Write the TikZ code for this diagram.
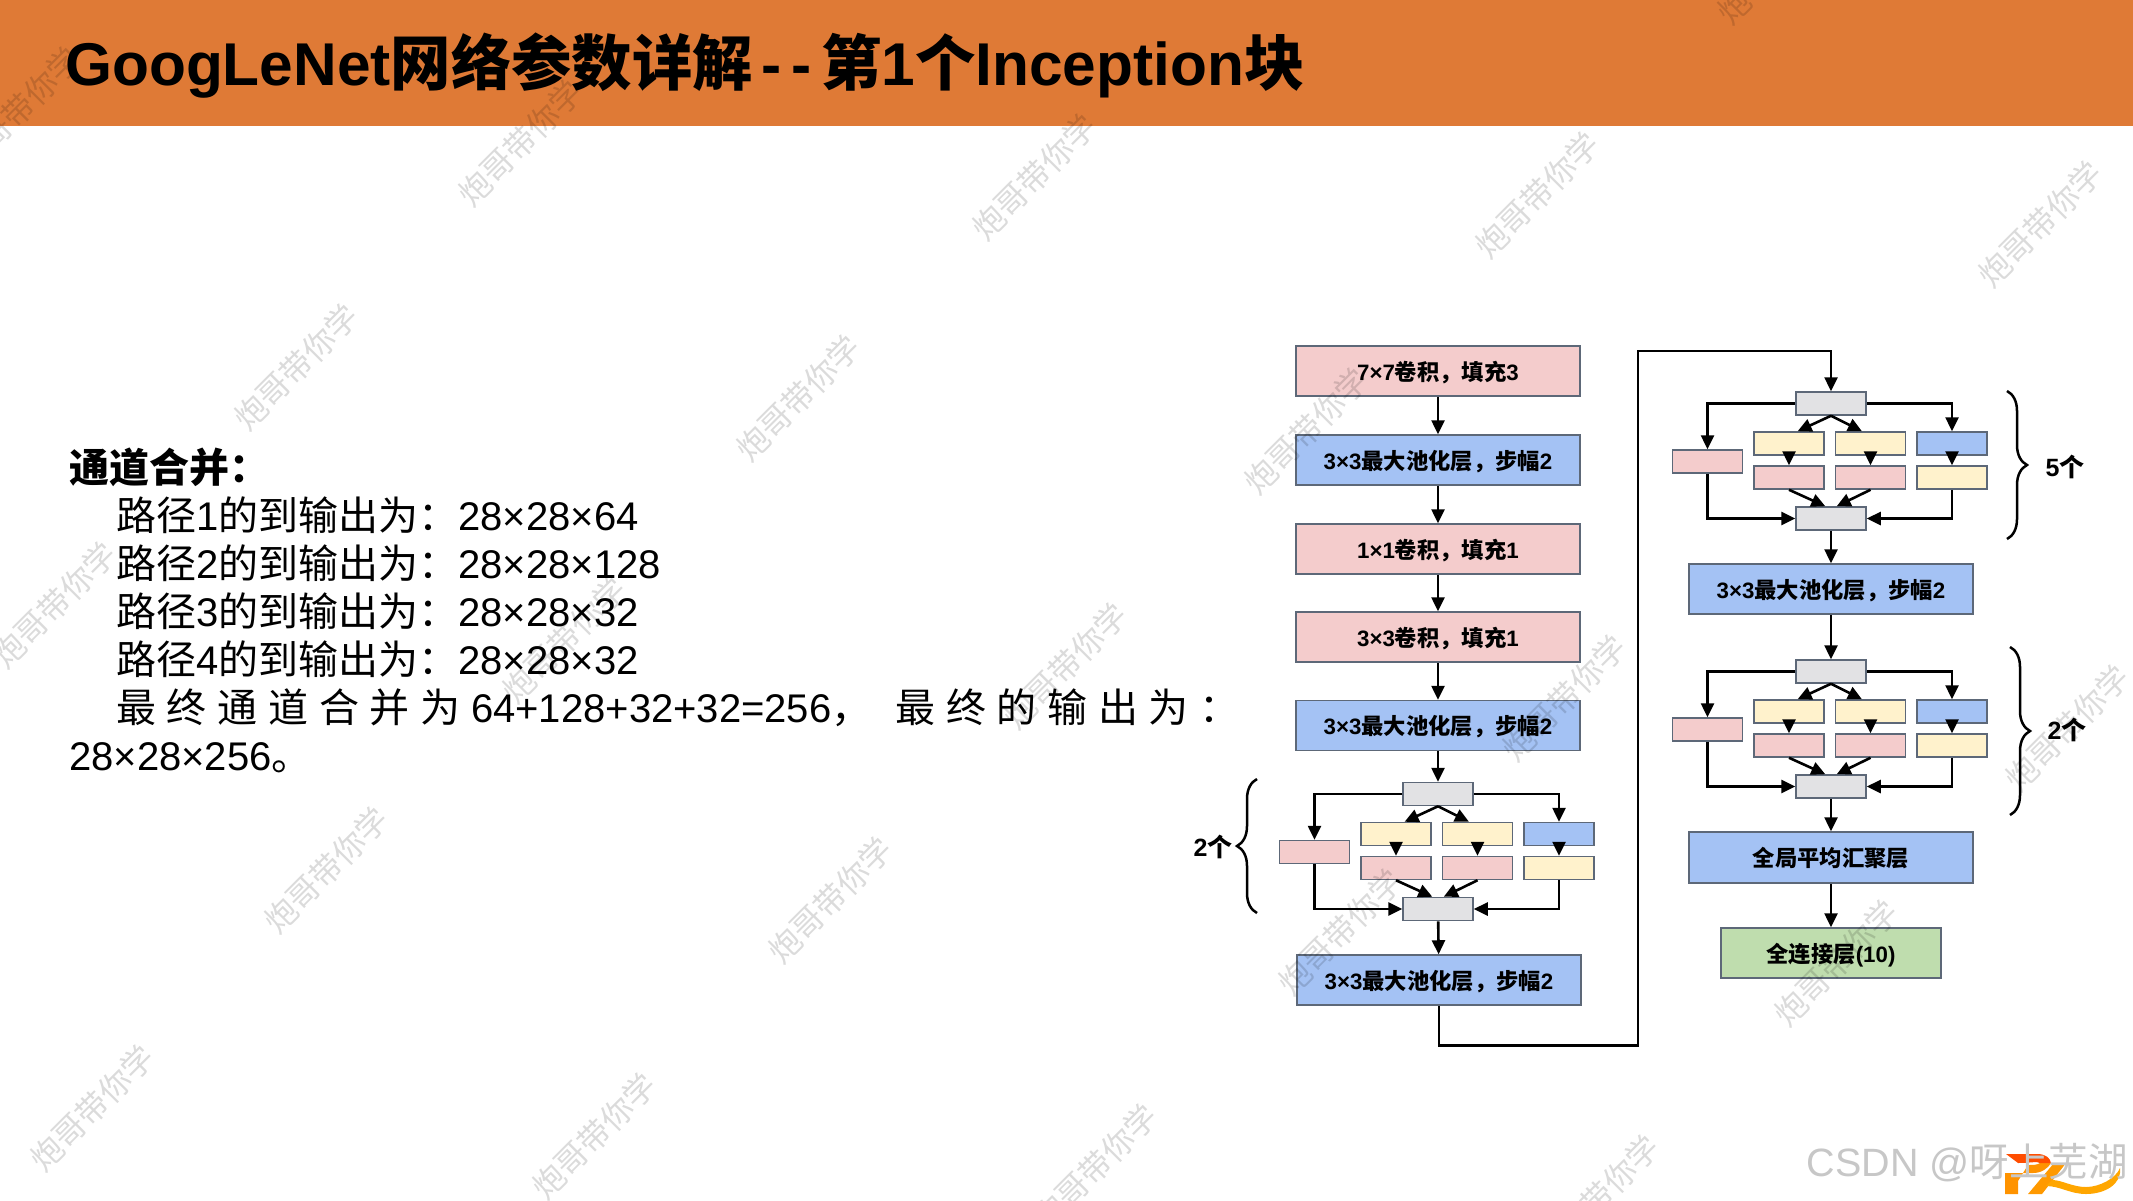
\documentclass[tikz,border=0pt]{standalone}
\usepackage{fontspec}
\setmainfont{Liberation Sans}
\newfontfamily\cjk{Noto Sans CJK SC}
\usepackage{tikz}
\usetikzlibrary{arrows.meta,decorations.pathreplacing}
\definecolor{bannerorange}{HTML}{DF7A36}
\definecolor{boxpink}{HTML}{F4CCCC}
\definecolor{boxblue}{HTML}{A4C2F4}
\definecolor{boxyellow}{HTML}{FFF2CC}
\definecolor{boxgray}{HTML}{E2E2E4}
\definecolor{boxgreen}{HTML}{BFDDAE}
\definecolor{boxedge}{HTML}{5D6878}
\tikzset{
  >={Triangle[length=14pt,width=13pt]},
  flow/.style={black,line width=2.6pt,->},
  plain/.style={draw=boxedge,line width=1.5pt,inner sep=0pt},
  wide/.style={plain,minimum width=284pt,minimum height=50pt,text height=21pt,text depth=3pt,font=\bfseries\fontsize{22.3}{26}\selectfont},
  small/.style={plain,minimum width=70pt,minimum height=23pt},
  curly/.style={black,line width=2.5pt,decorate,decoration={brace,amplitude=20pt}},
  mark text/.style={font=\bfseries\fontsize{25}{30}\selectfont},
  shadow text/.style={black,text opacity=.14,rotate=45,font=\cjk\fontsize{32}{36}\selectfont}
}
% one inception block: name, x and y of its top gate
\newcommand{\inceptionblock}[3]{
  \node[small,fill=boxgray](#1top) at (#2, #3) {};
  \node[small,fill=boxpink](#1left) at (#2-123.5, #3+58) {};
  \node[small,fill=boxyellow](#1ya) at (#2-42, #3+40) {};
  \node[small,fill=boxyellow](#1yb) at (#2+39.5, #3+40) {};
  \node[small,fill=boxblue](#1bl) at (#2+121, #3+40) {};
  \node[small,fill=boxpink](#1pa) at (#2-42, #3+74) {};
  \node[small,fill=boxpink](#1pb) at (#2+39.5, #3+74) {};
  \node[small,fill=boxyellow](#1yc) at (#2+121, #3+74) {};
  \node[small,fill=boxgray](#1bot) at (#2, #3+115) {};
  \draw[flow] (#1top.west) -| (#1left.north);
  \draw[flow] (#1top.east) -| (#1bl.north);
  \draw[flow] (#1top.south) -- (#1ya.55);
  \draw[flow] (#1top.south) -- (#1yb.125);
  \draw[flow] (#1ya.south) -- (#1pa.north);
  \draw[flow] (#1yb.south) -- (#1pb.north);
  \draw[flow] (#1bl.south) -- (#1yc.north);
  \draw[flow] (#1pa.south) -- (#1bot.115);
  \draw[flow] (#1pb.south) -- (#1bot.65);
  \draw[flow] (#1left.south) |- (#1bot.west);
  \draw[flow] (#1yc.south) |- (#1bot.east);
}
\begin{document}
\begin{tikzpicture}[x=1pt,y=-1pt]
  \useasboundingbox (0, 0) rectangle (2133, 1200);
  \clip (0, 0) rectangle (2133, 1200);
  \fill[white] (0, 0) rectangle (2133, 1200);
  \fill[bannerorange] (0, 0) rectangle (2133, 126);

  \node[anchor=base west,inner sep=0pt,font=\bfseries\fontsize{60.4}{70}\selectfont](title) at (65, 85)
    {GoogLeNet{\cjk 网络参数详解}\hspace{8pt}-\hspace{10pt}-\hspace{10pt}{\cjk 第}1{\cjk 个}Inception{\cjk 块}};

  \node[anchor=north west,inner sep=0pt,text width=1300pt,align=left,font=\fontsize{40}{48}\selectfont](body) at (69, 447.5) {%
    {\bfseries\cjk 通道合并：}\\
    \hspace*{47pt}{\cjk 路径}1{\cjk 的到输出为：}28×28×64\\
    \hspace*{47pt}{\cjk 路径}2{\cjk 的到输出为：}28×28×128\\
    \hspace*{47pt}{\cjk 路径}3{\cjk 的到输出为：}28×28×32\\
    \hspace*{47pt}{\cjk 路径}4{\cjk 的到输出为：}28×28×32\\
    \hspace*{47pt}{\spaceskip=10.7pt {\cjk 最 终 通 道 合 并 为} 64+128+32+32=256{\cjk ，}\hspace{24pt}{\cjk 最 终 的 输 出 为 ：}}\\
    28×28×256{\cjk 。}};

  % left column
  \node[wide,fill=boxpink](conva) at (1438, 371) {7×7{\cjk 卷积，填充}3};
  \node[wide,fill=boxblue](poola) at (1438, 460) {3×3{\cjk 最大池化层，步幅}2};
  \node[wide,fill=boxpink](convb) at (1438, 549) {1×1{\cjk 卷积，填充}1};
  \node[wide,fill=boxpink](convc) at (1438, 637) {3×3{\cjk 卷积，填充}1};
  \node[wide,fill=boxblue](poolb) at (1438, 725.5) {3×3{\cjk 最大池化层，步幅}2};
  \inceptionblock{inca}{1438}{794}
  \node[wide,fill=boxblue](poolc) at (1439, 980) {3×3{\cjk 最大池化层，步幅}2};
  \draw[flow] (conva) -- (poola);
  \draw[flow] (poola) -- (convb);
  \draw[flow] (convb) -- (convc);
  \draw[flow] (convc) -- (poolb);
  \draw[flow] (poolb) -- (incatop);
  \draw[flow] (incabot) -- (poolc);

  % right column
  \inceptionblock{incb}{1831}{403.5}
  \node[wide,fill=boxblue](poold) at (1831, 589) {3×3{\cjk 最大池化层，步幅}2};
  \inceptionblock{incc}{1831}{671.5}
  \node[wide,fill=boxblue,minimum height=51pt](avg) at (1831, 857.5) {\cjk 全局平均汇聚层};
  \node[wide,fill=boxgreen,minimum width=220pt](dense) at (1831, 953) {{\cjk 全连接层}(10)};
  \draw[flow] (incbbot) -- (poold);
  \draw[flow] (poold) -- (incctop);
  \draw[flow] (inccbot) -- (avg);
  \draw[flow] (avg) -- (dense);

  \coordinate(turna) at (1638, 1045.5);
  \coordinate(turnb) at (1638, 351);
  \draw[flow] (poolc.south) |- (turna) -- (turnb) -| (incbtop.north);

  % braces
  \draw[curly] (1257, 913) -- (1257, 779);
  \draw[curly] (2007, 391) -- (2007, 539);
  \draw[curly] (2010, 647) -- (2010, 815);
  \node[mark text](marka) at (1213, 847) {2{\cjk 个}};
  \node[mark text](markb) at (2065, 467) {5{\cjk 个}};
  \node[mark text](markc) at (2067, 730) {2{\cjk 个}};

  % watermark
  \foreach \wx/\wy in {18/110,520/143,1034/177,1537/195,2040/224,
    296/367,798/398,1306/431,1779/-39,
    54/605,564/640,1065/666,1564/698,2067/728,
    326/870,830/900,1340/932,1836/963,
    92/1108,594/1136,1095/1167,1597/1198}
    \node[shadow text] at (\wx, \wy) {炮哥带你学};

  % corner logo
  \fill[orange!85!yellow] (2005, 1173) -- (2033, 1173) .. controls (2042, 1173) and (2048, 1168) .. (2051, 1163)
    -- (2040, 1163) .. controls (2038, 1165) and (2032, 1165) .. (2028, 1165) -- (2018, 1181) -- (2018, 1194) -- (2005, 1194) -- cycle;
  \fill[red!55!orange!90!yellow] (2006, 1154) -- (2037, 1154) .. controls (2046, 1154) and (2050, 1158) .. (2051, 1163)
    -- (2040, 1163) .. controls (2037, 1161) and (2030, 1163) .. (2018, 1163) -- cycle;
  \fill[orange!80!yellow] (2028, 1194) -- (2054, 1163) -- (2066, 1163) -- (2042, 1194) -- cycle;
  \fill[orange!70!yellow] (2046, 1186) .. controls (2060, 1186) and (2070, 1194) .. (2086, 1194)
    .. controls (2105, 1194) and (2122, 1184) .. (2120, 1168)
    .. controls (2116, 1178) and (2100, 1187) .. (2086, 1187) .. controls (2072, 1187) and (2062, 1180) .. (2052, 1180) -- cycle;
  \node[anchor=east,inner sep=0pt,black!22,font=\fontsize{39.5}{44}\selectfont](csdn) at (2128, 1163) {CSDN @{\cjk 呀上芜湖}};
\end{tikzpicture}
\end{document}
